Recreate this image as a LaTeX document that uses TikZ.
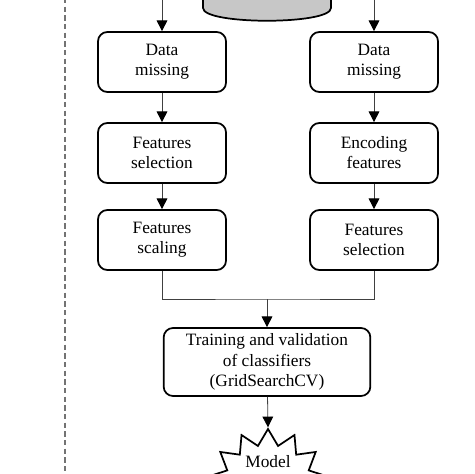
\documentclass[tikz,border=0pt]{standalone}
\usepackage{fontspec}
\setmainfont{Liberation Serif}
\usetikzlibrary{arrows.meta,shapes.geometric}

\begin{document}
\begin{tikzpicture}[x=0.75pt, y=-0.75pt,
	stepbox/.style={draw, line width=1.3pt, rounded corners=7pt, minimum width=96pt, minimum height=45pt, align=center, inner sep=2pt, font=\fontsize{13}{15}\selectfont},
	flow/.style={draw=black!75, line width=0.6pt, -{Triangle[width=8pt,length=8pt,color=black,fill=black]}},
	link/.style={draw=black!75, line width=0.6pt}]

\useasboundingbox (0,0) rectangle (474,474);
\clip (0,0) rectangle (474,474); % limit img size

	% dashed border
	\draw[black!55, line width=0.8pt, dash pattern=on 4pt off 2.5pt] (65,-2) -- (65,476);

	% data set (cut off)
	\draw[fill=black!22, line width=1.3pt]
	(203,-10) -- (203,8)
	.. controls (203,25) and (331,25) .. (331,8)
	-- (331,-10);

	% ends of the incoming arrows
	\coordinate (lin) at (162,-2);
	\coordinate (rin) at (374,-2);

	% left branch
	\node[stepbox] (lmiss) at (162,62) {Data\\missing};
	\node[stepbox] (lsel) at (162,153) {Features\\selection};
	\node[stepbox] (lscale) at (162,240) {Features\\scaling};

	% right branch
	\node[stepbox] (rmiss) at (374,62) {Data\\missing};
	\node[stepbox] (renc) at (374,153) {Encoding\\features};
	\node[stepbox] (rsel) at (374,240) {Features\\selection};

	% training
	\node[stepbox, minimum width=155pt, minimum height=51pt, font=\fontsize{13}{15.5}\selectfont] (train) at (267,362) {Training and validation\\of classifiers\\(GridSearchCV)};

	% model
	\node[star, star points=14, star point ratio=1.35, draw, line width=1.3pt, minimum size=91.5pt, inner sep=0pt] (model) at (268,490) {};
	\node[font=\fontsize{13}{15}\selectfont] (mtext) at (268,462) {Model};

	% connectors
	\draw[flow] (lin) -- (lmiss);
	\draw[flow] (rin) -- (rmiss);
	\draw[flow] (lmiss) -- (lsel);
	\draw[flow] (lsel) -- (lscale);
	\draw[flow] (rmiss) -- (renc);
	\draw[flow] (renc) -- (rsel);
	\coordinate (merge) at (267,299);
	\draw[link] (lscale.south) |- (merge) -| (rsel.south);
	\draw[flow] (merge) -- (train);
	\draw[flow] (train) -- (model.north);

\end{tikzpicture}
\end{document}
